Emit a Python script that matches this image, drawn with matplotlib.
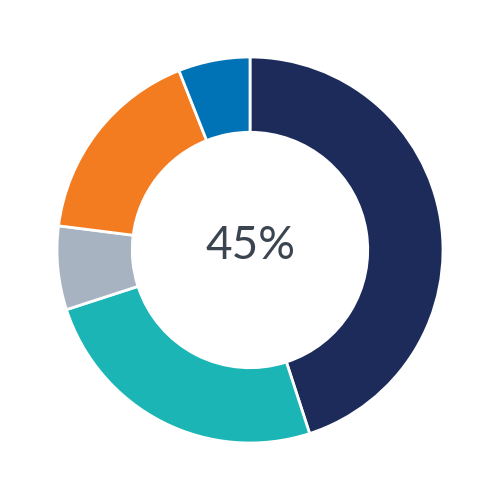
import matplotlib
matplotlib.use("Agg")
import matplotlib.pyplot as plt

labels = ["A", "B", "C", "D", "E"]
values = [45, 25, 7, 17, 6]
colors = ["#1c2b5a", "#1bb5b5", "#a8b3c2", "#f47c20", "#0073b6"]
center_text = "45%"

fig = plt.figure(figsize=(5, 5), dpi=100)
ax = fig.add_axes([0, 0, 1, 1])
ax.pie(values, colors=colors, startangle=90, counterclock=False,
       radius=1.0, wedgeprops=dict(width=0.39, edgecolor="white", linewidth=2))
lim = 250 / 193
ax.set_xlim(-lim, lim)
ax.set_ylim(-lim, lim)
ax.set_aspect("equal")
ax.axis("off")
ax.text(0, 0.02, center_text, ha="center", va="center", fontsize=33,
        family=["Lato", "DejaVu Sans"], fontweight="normal", color="#3b4550")
fig.savefig("out.png", dpi=100, facecolor="white")
